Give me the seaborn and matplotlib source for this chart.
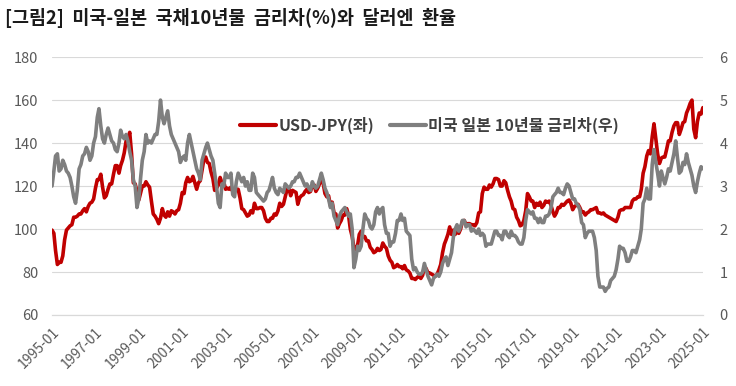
import pandas as pd
import numpy as np
import matplotlib
matplotlib.use('Agg')
import matplotlib.pyplot as plt
import matplotlib.dates as mdates
from matplotlib.lines import Line2D
import seaborn as sns

sns.set_style('white')
plt.rcParams['font.family'] = ['Noto Sans CJK KR', 'DejaVu Sans']

# 월별 달러엔 환율 (1995-01 ~ 2025-01)
usdjpy = [
    99.5, 98, 90, 83.5, 84.5, 84.5, 87.5, 95, 99.5, 100.5, 101.5, 102,
    105.5, 105.5, 106, 107, 107, 108.5, 109.5, 108, 110.5, 112, 112.5, 114,
    119, 123, 123, 125.5, 119.5, 114.5, 115.5, 118.5, 121, 121, 125.5, 129.5,
    129.5, 126, 129.5, 132, 135.5, 141, 142, 145, 135, 121.5, 121, 117.5,
    113.5, 117, 120, 120, 122, 120.5, 119.5, 113, 107, 106, 104.5, 102.5,
    105, 109.5, 106.5, 105.5, 108, 106, 108.5, 108, 107, 108.5, 109, 112,
    117, 116.5, 121.5, 124, 122, 122.5, 124.5, 121.5, 118.5, 121.5, 122.5, 127.5,
    132.5, 133.5, 131, 130.5, 126.5, 123.5, 118, 119, 120.5, 124, 121.5, 122,
    118.5, 119, 118.5, 119.5, 117.5, 118.5, 118.5, 118.5, 114.5, 109.5, 109, 107.5,
    106, 106.5, 108.5, 107.5, 112, 109.5, 109.5, 110, 110, 108.5, 105, 103.5,
    103.5, 105, 105, 107, 106.5, 108.5, 112, 110.5, 111.5, 115, 118.5, 119,
    115.5, 118, 117.5, 117, 111.5, 114.5, 115.5, 116, 117.5, 118.5, 117, 117.5,
    120.5, 120.5, 117.5, 119, 121, 122.5, 121.5, 116.5, 115, 115.5, 111, 112.5,
    107.5, 107, 100.5, 102.5, 104, 106.5, 106.5, 109.5, 106.5, 100, 96.5, 91.5,
    90.5, 92.5, 97.5, 99, 96.5, 96.5, 94.5, 94.5, 91.5, 90.5, 89, 89.5,
    91, 90, 90.5, 93.5, 92, 91, 87.5, 85.5, 84.5, 82, 82.5, 83.5,
    82.5, 82.5, 81.5, 83, 81, 80.5, 79.5, 77, 77, 76.5, 77.5, 78,
    77, 78.5, 82.5, 81.5, 79.5, 79.5, 79, 78.5, 78, 79, 81, 83.5,
    89, 93, 95, 97.5, 101, 97.5, 99.5, 97.5, 99, 98, 100, 103.5,
    104, 102, 102.5, 102.5, 102, 102, 101.5, 103, 107.5, 108, 116.5, 119.5,
    118.5, 118.5, 120.5, 119.5, 121, 123.5, 123.5, 123, 120, 120, 122.5, 121.5,
    118, 115, 113, 109.5, 109, 105.5, 104, 101.5, 102, 104, 108.5, 116.5,
    115, 113, 113, 110, 112, 111, 112.5, 110, 111, 113, 112.5, 113,
    111, 108, 106, 107.5, 110, 110, 111.5, 111, 112, 113, 113.5, 112,
    109, 110.5, 111, 111.5, 110, 108, 108, 106.5, 107.5, 108, 109, 109,
    109.5, 110, 107.5, 107.5, 107, 107.5, 106.5, 106, 105.5, 105, 104.5, 104,
    103.5, 105.5, 108.5, 109, 109, 110, 110, 110, 110, 113, 114, 114,
    115, 115, 118.5, 126, 129, 134, 136.5, 135, 143, 149, 142, 135,
    130.5, 133, 133.5, 133.5, 137, 141, 141, 145, 148, 149.5, 149.5, 144,
    146.5, 149.5, 150, 154, 156, 158.5, 160, 146.5, 142.5, 150, 154, 153.5,
    156.5,
]

# 미국-일본 10년물 금리차 (%p)
spread = [
    3.0, 3.35, 3.7, 3.75, 3.35, 3.4, 3.6, 3.5, 3.35, 3.3, 3.2, 3.0,
    2.75, 2.6, 2.9, 3.4, 3.5, 3.7, 3.75, 3.9, 3.8, 3.6, 3.7, 4.0,
    4.15, 4.6, 4.8, 4.4, 4.1, 4.0, 4.2, 4.35, 4.2, 4.05, 4.0, 3.85,
    3.8, 4.0, 4.3, 4.15, 4.1, 4.2, 4.05, 3.8, 3.6, 3.15, 3.0, 2.5,
    2.7, 3.2, 3.6, 3.8, 4.2, 4.0, 4.05, 4.0, 4.1, 4.2, 4.2, 4.5,
    5.0, 4.6, 4.45, 4.6, 4.75, 4.4, 4.2, 4.1, 4.0, 3.9, 3.8, 3.55,
    3.65, 3.7, 3.6, 4.0, 4.2, 4.0, 3.8, 3.6, 3.4, 3.3, 3.15, 3.6,
    3.75, 3.9, 4.0, 3.85, 3.7, 3.6, 3.3, 3.0, 2.6, 2.5, 3.05, 3.0,
    3.3, 3.2, 3.2, 3.3, 2.8, 2.75, 3.1, 3.3, 3.2, 3.1, 3.2, 3.0,
    3.1, 2.9, 2.9, 3.3, 3.2, 2.85, 2.8, 2.75, 2.7, 2.65, 2.7, 2.85,
    2.9, 3.05, 3.2, 2.95, 2.85, 2.8, 2.95, 2.9, 2.85, 3.05, 3.0, 2.95,
    3.0, 3.1, 3.1, 3.2, 3.2, 3.3, 3.2, 3.1, 3.0, 3.05, 2.95, 2.9,
    3.1, 3.0, 2.95, 3.0, 3.15, 3.3, 3.15, 2.95, 2.85, 2.7, 2.5, 2.6,
    2.3, 2.2, 2.1, 2.3, 2.4, 2.45, 2.5, 2.4, 2.3, 2.35, 2.0, 1.1,
    1.3, 1.6, 1.5, 1.6, 2.0, 2.35, 2.25, 2.2, 2.05, 2.0, 2.1, 2.4,
    2.5, 2.35, 2.45, 2.5, 2.1, 1.9, 1.9, 1.6, 1.7, 1.7, 1.9, 2.2,
    2.2, 2.35, 2.2, 2.25, 1.95, 1.9, 1.85, 1.3, 1.05, 1.1, 1.0, 0.95,
    0.95, 1.0, 1.2, 1.05, 0.9, 0.8, 0.7, 0.85, 0.9, 0.95, 0.9, 1.0,
    1.2, 1.3, 1.35, 1.15, 1.3, 1.45, 1.8, 2.0, 2.1, 1.95, 2.05, 2.2,
    2.2, 2.05, 2.1, 2.1, 1.95, 2.0, 1.95, 1.9, 2.0, 1.85, 1.9, 1.85,
    1.6, 1.65, 1.65, 1.65, 1.8, 1.95, 1.95, 1.85, 1.85, 1.75, 1.95, 1.95,
    1.85, 1.8, 1.95, 1.85, 1.85, 1.8, 1.7, 1.65, 1.65, 1.8, 2.2, 2.45,
    2.4, 2.35, 2.4, 2.25, 2.25, 2.15, 2.25, 2.15, 2.15, 2.3, 2.3, 2.35,
    2.5, 2.75, 2.8, 2.85, 2.95, 2.85, 2.85, 2.8, 2.95, 3.05, 3.0, 2.85,
    2.7, 2.7, 2.6, 2.55, 2.45, 2.15, 2.1, 1.8, 1.9, 1.95, 1.95, 1.95,
    1.8, 1.5, 0.9, 0.65, 0.65, 0.65, 0.55, 0.62, 0.65, 0.8, 0.85, 0.9,
    1.05, 1.3, 1.6, 1.55, 1.55, 1.45, 1.25, 1.25, 1.35, 1.5, 1.5, 1.45,
    1.6, 1.75, 2.0, 2.6, 2.7, 2.95, 2.7, 2.7, 3.5, 3.85, 3.55, 3.3,
    3.0, 3.35, 3.2, 3.05, 3.2, 3.4, 3.35, 3.55, 3.75, 4.05, 3.65, 3.3,
    3.35, 3.55, 3.5, 3.75, 3.55, 3.4, 3.25, 3.0, 2.85, 3.1, 3.3, 3.45,
    3.4,
]

dates = pd.date_range('1995-01-01', periods=len(usdjpy), freq='MS')
df = pd.DataFrame({'date': dates, 'usdjpy': usdjpy, 'spread': spread})
tick_dates = pd.date_range('1995-01-01', '2025-01-01', freq='24MS')

red = '#C00000'
gray = '#7F7F7F'
txt = '#595959'

fig = plt.figure(figsize=(7.36, 3.86), dpi=100)
ax = fig.add_axes([0.0707, 0.184, 0.8843, 0.668])
ax2 = ax.twinx()

sns.lineplot(data=df, x='date', y='usdjpy', ax=ax, color=red, lw=2.6)
sns.lineplot(data=df, x='date', y='spread', ax=ax2, color=gray, lw=2.6)

ax.set_xlim(pd.Timestamp('1995-01-01'), pd.Timestamp('2025-01-01'))
ax.set_ylim(60, 180)
ax.set_yticks(range(60, 181, 20))
ax2.set_ylim(0, 6)
ax2.set_yticks(range(0, 7))

ax.set_xticks(tick_dates)
ax.xaxis.set_major_formatter(mdates.DateFormatter('%Y-%m'))
for lab in ax.get_xticklabels():
    lab.set_rotation(45)
    lab.set_ha('right')
    lab.set_rotation_mode('anchor')

ax.grid(axis='y', color='#D9D9D9', lw=0.8)
ax.set_axisbelow(True)
for a in (ax, ax2):
    for s in ('top', 'left', 'right'):
        a.spines[s].set_visible(False)
    a.spines['bottom'].set_color('#D9D9D9')
    a.set_xlabel('')
    a.set_ylabel('')
ax.tick_params(axis='x', length=4, color='#D9D9D9', labelcolor=txt, labelsize=10, pad=3)
ax.tick_params(axis='y', length=0, labelcolor=txt, labelsize=10.5, pad=10)
ax2.tick_params(axis='y', length=0, labelcolor=txt, labelsize=10.5, pad=12)

handles = [Line2D([], [], color=red, lw=3),
           Line2D([], [], color=gray, lw=3)]
ax2.legend(handles, ['USD-JPY(좌)', '미국 일본 10년물 금리차(우)'],
           loc='center', bbox_to_anchor=(0.58, 0.737), ncol=2, frameon=False,
           handlelength=2.2, handletextpad=0.15, columnspacing=1.0,
           prop={'weight': 'bold', 'size': 11.6}, labelcolor='#404040')

fig.text(0.007, 0.953, '[그림2]  미국-일본  국채10년물  금리차(%)와  달러엔  환율',
         fontsize=13.3, fontweight='bold', color='#1A1A1A', va='center')

fig.savefig('out.png', dpi=100)
